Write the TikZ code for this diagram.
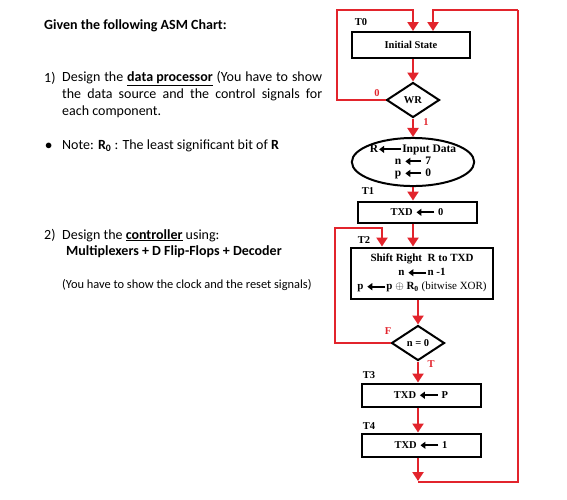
\documentclass[tikz,border=0pt]{standalone}
\usepackage{fontspec}
\setmainfont{Carlito}
\newfontfamily\chartfont{Liberation Serif}
\usetikzlibrary{shapes.geometric,arrows.meta,calc}

\definecolor{asmred}{RGB}{226,36,44}

\tikzset{
  flow/.style={draw=asmred, line width=2.2pt, -{Triangle[length=9pt,width=11pt]}},
  loopline/.style={draw=asmred, line width=2.2pt},
  statebox/.style={draw, line width=2pt, rectangle, inner sep=1pt, font=\chartfont\bfseries\fontsize{10.5}{13}\selectfont, align=center},
  decbox/.style={draw, line width=2pt, diamond, inner sep=0pt, minimum width=53pt, minimum height=35pt, font=\chartfont\bfseries\fontsize{10.5}{13}\selectfont},
  tlabel/.style={font=\chartfont\bfseries\fontsize{10.5}{13}\selectfont, inner sep=0pt},
  blabel/.style={font=\chartfont\bfseries\fontsize{10.5}{13}\selectfont, text=asmred, inner sep=0pt},
  qtext/.style={font=\fontsize{14}{17}\selectfont, inner sep=0pt, anchor=base west}
}

\newcommand{\getsarr}[1][14pt]{\tikz[baseline=-0.6ex]\draw[draw=black, line width=2.2pt, -{Triangle[length=5pt,width=7pt]}] (#1,0)--(0,0);}

\begin{document}
\begin{tikzpicture}[x=1pt, y=-1pt]
\useasboundingbox (0,0) rectangle (567,499);

% question text
\node[qtext, font=\fontsize{14}{17}\selectfont\bfseries] (title) at (44,29) {Given the following ASM Chart:};
\node[qtext] (q1) at (44,82) {1)};
\node[qtext, anchor=north west, text width=260pt, align=justify] (q1text) at (62,71.5) {Design the \textbf{\underline{data processor}} (You have to show\linebreak the data source and the control signals for\linebreak each component.};
\node[qtext] (dot) at (45,149) {$\bullet$};
\node[qtext] (note) at (62,149) {Note: \textbf{R\textsubscript{0}} : The least significant bit of \textbf{R}};
\node[qtext] (q2) at (44,239) {2)};
\node[qtext] (q2text) at (62,239) {Design the \textbf{\underline{controller}} using:};
\node[qtext, font=\fontsize{14}{17}\selectfont\bfseries] (q2parts) at (66,255) {Multiplexers + D Flip-Flops + Decoder};
\node[qtext, font=\fontsize{12.4}{15}\selectfont] (clk) at (62,288) {(You have to show the clock and the reset signals)};

% ASM chart
\node[statebox, minimum width=118pt, minimum height=26pt] (init) at (411,45) {Initial State};
\node[decbox] (wr) at (413,100) {WR};
\node[draw, line width=2pt, ellipse, minimum width=113pt, minimum height=43pt, inner sep=0pt, align=center, font=\chartfont\bfseries\fontsize{11.5}{12}\selectfont] (ell) at (413,162)
  {R\getsarr[22pt]Input Data\\n \getsarr[16pt] 7\\p \getsarr[16pt] 0};
\node[statebox, minimum width=119pt, minimum height=21pt] (t1) at (417,212) {TXD \getsarr[18pt] 0};
\node[statebox, minimum width=142pt, minimum height=51pt, font=\chartfont\bfseries\fontsize{11}{14}\selectfont] (t2) at (422,273)
  {Shift Right~~R to TXD\\n \getsarr[18pt]n -1\\p \getsarr[18pt]p $\oplus$ R\textsubscript{0} {\mdseries (bitwise XOR)}};
\node[decbox] (nz) at (418,343) {n = 0};
\node[statebox, minimum width=119pt, minimum height=23pt] (t3) at (421,395) {TXD \getsarr[18pt] P};
\node[statebox, minimum width=119pt, minimum height=23pt] (t4) at (421,445) {TXD \getsarr[18pt] 1};

\node[tlabel] (lt0) at (361,22) {T0};
\node[tlabel] (lt1) at (368,191) {T1};
\node[tlabel] (lt2) at (364,240) {T2};
\node[tlabel] (lt3) at (369,375) {T3};
\node[tlabel] (lt4) at (369,426) {T4};
\node[blabel] (l0) at (377,93) {0};
\node[blabel] (l1) at (426,122) {1};
\node[blabel] (lf) at (388,331) {F};
\node[blabel] (lt) at (431,364) {T};

\coordinate (col) at (413,0);
\coordinate (tl) at (337,10);
\coordinate (tr) at (518,10);
\coordinate (ml) at (335,228);
\coordinate (bl) at (418,482);

% connectors
\draw[flow] (wr.north |- init.south) -- (wr.north);
\draw[flow] (wr.south) -- (ell.north);
\draw[flow] (col |- ell.south) -- (col |- t1.north);
\draw[flow] (col |- t1.south) -- (col |- t2.north);
\draw[flow] (nz.north |- t2.south) -- (nz.north);
\draw[flow] (nz.south) -- (nz.south |- t3.north);
\draw[flow] (nz.south |- t3.south) -- (nz.south |- t4.north);
\draw[flow] (nz.south |- t4.south) -- ($(bl)+(0,-1)$);
\draw[loopline] (bl) -| (tr);
\draw[flow] (tr) -| ($(init.north)+(22,0)$);
\draw[flow] (wr.west) -| (tl) -| ($(init.north)+(2,0)$);
\draw[flow] (nz.west) -| (ml) -| ($(t2.north west)+(32,0)$);
\end{tikzpicture}
\end{document}
